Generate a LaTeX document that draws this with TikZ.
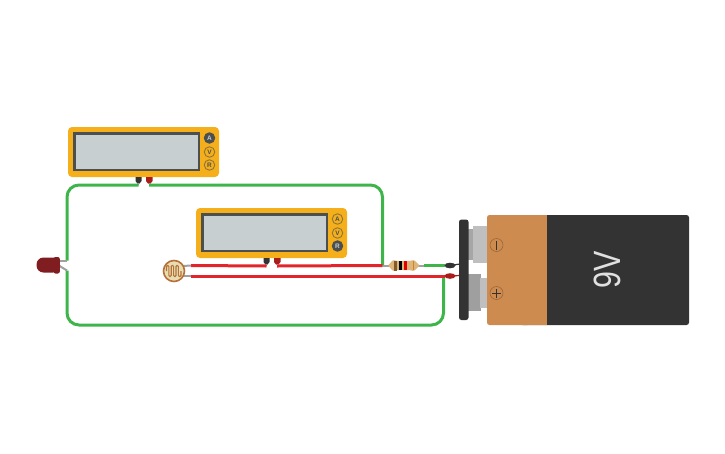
\documentclass[tikz,border=0pt]{standalone}
\usepackage{fontspec}
\setmainfont{Liberation Sans}
\usetikzlibrary{positioning}
\definecolor{wiregreen}{HTML}{3DB54A}
\definecolor{wirered}{HTML}{E2252B}
\definecolor{meterbody}{HTML}{F4AF1B}
\definecolor{meterscreen}{HTML}{C7CFD1}
\definecolor{meterdark}{HTML}{4C4F50}
\definecolor{probered}{HTML}{A81C1C}
\definecolor{pingrey}{HTML}{A0A0A0}
\definecolor{batdark}{HTML}{333333}
\definecolor{batorange}{HTML}{CE8B50}
\definecolor{ledred}{HTML}{7F1D20}
\definecolor{ldrbrown}{HTML}{B8703A}
\definecolor{ldrface}{HTML}{E6DDB0}
\definecolor{restan}{HTML}{DDB67C}
\tikzset{
  greenwire/.style={draw=wiregreen,line width=3pt,rounded corners=12pt},
  redwire/.style={draw=wirered,line width=3pt},
  pinlead/.style={draw=pingrey,line width=2pt},
  meterbtn/.style={circle,draw=#1,line width=.9pt,minimum size=10.5pt,inner sep=0pt,font=\fontsize{6.5}{6.5}\selectfont\bfseries},
  termmark/.style={circle,draw=brown!70!black!70!batorange,line width=.6pt,minimum size=13pt,inner sep=0pt}
}
\begin{document}
\begin{tikzpicture}[x=1pt,y=-1pt]
  \useasboundingbox (0,0) rectangle (725,453);
  % meters
  \foreach \nm/\mx/\my/\act in {mone/68/127/A,mtwo/196/208/R} {
    \fill[meterbody,rounded corners=4pt] (\mx,\my) rectangle (\mx+151,\my+50);
    \draw[meterdark,fill=meterscreen,line width=2.2pt] (\mx+6.5,\my+6.5) rectangle (\mx+131,\my+43);
    \foreach \lb/\dy in {A/11,V/25,R/38} {
      \if\lb\act
        \node[meterbtn=meterdark,fill=meterdark,text=meterscreen] (\nm\lb) at (\mx+141.5,\my+\dy) {\lb};
      \else
        \node[meterbtn=meterdark!60!meterbody,text=meterdark] (\nm\lb) at (\mx+141.5,\my+\dy) {\lb};
      \fi
    }
    \fill[batdark] (\mx+67.5,\my+50) rectangle (\mx+73.5,\my+54) -- (\mx+71.5,\my+56.5) -- (\mx+69.5,\my+56.5) -- (\mx+67.5,\my+54) -- cycle;
    \fill[probered] (\mx+78,\my+50) rectangle (\mx+84.5,\my+54) -- (\mx+82.5,\my+56.5) -- (\mx+80,\my+56.5) -- (\mx+78,\my+54) -- cycle;
    \coordinate (\nm blk) at (\mx+70.5,\my+58);
    \coordinate (\nm red) at (\mx+81.2,\my+58);
    \draw[pinlead,line width=1pt] (\mx+70.5,\my+56) -- (\nm blk);
    \draw[pinlead,line width=1pt] (\mx+81.2,\my+56) -- (\nm red);
  }
  % named ends
  \coordinate (ledtop) at (67,260.5);
  \coordinate (ledbot) at (67,270.5);
  \coordinate (ldra) at (191,265.5);
  \coordinate (ldrb) at (191,276);
  \coordinate (resl) at (382.5,265.5);
  \coordinate (resr) at (424,265.5);
  \coordinate (snapb) at (445,265.5);
  \coordinate (snapr) at (445,276);
  % wires
  \draw[greenwire] (moneblk) -- (67,185) -- (ledtop);
  \draw[greenwire] (monered) -- (382.5,185) -- (resl);
  \draw[greenwire] (ledbot) -- (67,325) -- (443.5,325) -- (443.5,276);
  \draw[greenwire,rounded corners=0pt,line width=2.4pt] (resr) -- (snapb);
  \draw[redwire] (ldra) -- (mtwoblk);
  \draw[redwire] (mtwored) -- (resl);
  \draw[redwire] (ldrb) -- (snapr);
  % led
  \draw[pinlead] (58,260.5) -- (ledtop);
  \draw[pinlead] (58,265) -- (ledbot);
  \fill[ledred,rounded corners=7pt] (36.5,257.5) rectangle (60,272.5);
  \fill[ledred,rounded corners=2pt] (53.5,257) rectangle (59.8,273.5);
  % ldr
  \draw[pinlead] (183,266) -- (ldra);
  \draw[pinlead] (183,276) -- (ldrb);
  \draw[draw=ldrbrown,fill=ldrface,line width=1.6pt] (174,271) circle (10.5);
  \draw[ldrbrown,line width=1.1pt,rounded corners=1pt] (166.5,271) -- (166.5,265.5) -- (168.8,265.5) -- (168.8,276.5) -- (171.2,276.5) -- (171.2,265.5) -- (173.6,265.5) -- (173.6,276.5) -- (176,276.5) -- (176,265.5) -- (178.4,265.5) -- (178.4,276.5) -- (181,276.5) -- (181,271);
  % resistor
  \draw[pinlead] (resl) -- (392,265.5);
  \draw[pinlead] (415,265.5) -- (resr);
  \fill[restan,rounded corners=1pt] (388,265.5) -- (393,260) -- (398,261) -- (409,261) -- (414,260) -- (419.5,265.5) -- (414,271) -- (409,270) -- (398,270) -- (393,271) -- cycle;
  \fill[brown!70!black] (394,260.5) rectangle (397,270.5);
  \fill[black] (399,261) rectangle (402,270);
  \fill[red!90!black] (404.2,261) rectangle (407,270);
  \fill[brown!70!orange] (412.8,261) rectangle (413.8,270);
  % snaps and battery
  \fill[batdark] (450,265.5) ellipse (5.5 and 2.8);
  \draw[batdark,line width=1.2pt] (450,265.5) -- (460,264);
  \fill[probered] (450,276) ellipse (5.5 and 2.8);
  \draw[probered,line width=1.2pt] (450,276) -- (460,275.5);
  \fill[gray!70] (468,229) rectangle (474,260);
  \fill[gray!50] (473,226) rectangle (488,262.5);
  \fill[gray!75] (468,274) rectangle (481,310.5);
  \fill[gray!50] (480,277.5) rectangle (488,308);
  \fill[batdark,rounded corners=2.5pt] (459,219.5) rectangle (468.5,320);
  \fill[batdark,rounded corners=2.5pt] (520,215) rectangle (689,325);
  \fill[batorange,rounded corners=2.5pt] (487,215) rectangle (530,325);
  \fill[batorange] (525,215) rectangle (547,325);
  \node[termmark] (minusmark) at (496.5,245) {};
  \node[termmark] (plusmark) at (496.5,293) {};
  \draw[batdark,line width=1pt] (496.5,240.5) -- (496.5,249.5);
  \draw[batdark,line width=1pt] (492,293) -- (501,293) (496.5,288.5) -- (496.5,297.5);
  \node[rotate=90,text=black!12,inner sep=0pt] (batlabel) at (607,270) {\scalebox{.8}[1]{\fontsize{38}{38}\selectfont 9V}};
\end{tikzpicture}
\end{document}
